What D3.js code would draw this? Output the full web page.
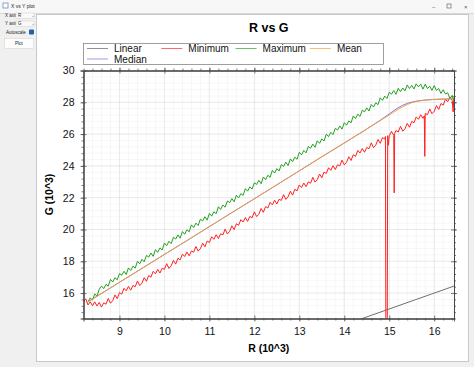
<!DOCTYPE html>
<html>
<head>
<meta charset="utf-8">
<script src="https://cdn.jsdelivr.net/npm/d3@7"></script>
<style>
  body { margin: 0; background: #f0f0f0; }
  svg { display: block; font-family: "Liberation Sans", Arial, sans-serif; }
</style>
</head>
<body>
<div id="viz"></div>
<script>
// Chart data (R and G in 10^3)

const seriesNames = ["Linear", "Minimum", "Maximum", "Mean", "Median"];
const seriesColors = ["#606060", "#ff2020", "#22a022", "#f0a030", "#7a6ad8"];

const xTicks = [9, 10, 11, 12, 13, 14, 15, 16];
const yTicks = [16, 18, 20, 22, 24, 26, 28, 30];

// y = x reference line
const linear = [[8.2, 8.2], [16.44, 16.44]];

const maximum = [
  [8.30, 15.45], [8.35, 15.7], [8.40, 15.55], [8.45, 15.95], [8.50, 15.8], [8.55, 16.25],
  [8.60, 16.44], [8.65, 16.28], [8.70, 16.55], [8.75, 16.43], [8.80, 16.86], [8.85, 16.70], [8.90, 16.97], [8.95, 16.83],
  [9.00, 17.22], [9.05, 17.12], [9.10, 17.37], [9.15, 17.17], [9.20, 17.58], [9.25, 17.42], [9.30, 17.69], [9.35, 17.57],
  [9.40, 18.00], [9.45, 17.84], [9.50, 18.12], [9.55, 17.97], [9.60, 18.37], [9.65, 18.26], [9.70, 18.52], [9.75, 18.31],
  [9.80, 18.73], [9.85, 18.56], [9.90, 18.84], [9.95, 18.71], [10.00, 19.15], [10.05, 18.98], [10.10, 19.26], [10.15, 19.11],
  [10.20, 19.51], [10.25, 19.40], [10.30, 19.66], [10.35, 19.45], [10.40, 19.87], [10.45, 19.70], [10.50, 19.98], [10.55, 19.85],
  [10.60, 20.29], [10.65, 20.12], [10.70, 20.40], [10.75, 20.25], [10.80, 20.65], [10.85, 20.54], [10.90, 20.80], [10.95, 20.59],
  [11.00, 21.01], [11.05, 20.84], [11.10, 21.12], [11.15, 20.99], [11.20, 21.43], [11.25, 21.26], [11.30, 21.54], [11.35, 21.40],
  [11.40, 21.79], [11.45, 21.69], [11.50, 21.94], [11.55, 21.74], [11.60, 22.15], [11.65, 21.99], [11.70, 22.26], [11.75, 22.14],
  [11.80, 22.57], [11.85, 22.41], [11.90, 22.68], [11.95, 22.54], [12.00, 22.94], [12.05, 22.83], [12.10, 23.09], [12.15, 22.88],
  [12.20, 23.30], [12.25, 23.13], [12.30, 23.41], [12.35, 23.28], [12.40, 23.72], [12.45, 23.55], [12.50, 23.83], [12.55, 23.68],
  [12.60, 24.08], [12.65, 23.97], [12.70, 24.23], [12.75, 24.02], [12.80, 24.44], [12.85, 24.27], [12.90, 24.55], [12.95, 24.42],
  [13.00, 24.86], [13.05, 24.69], [13.10, 24.97], [13.15, 24.82], [13.20, 25.22], [13.25, 25.11], [13.30, 25.37], [13.35, 25.17],
  [13.40, 25.58], [13.45, 25.42], [13.50, 25.69], [13.55, 25.57], [13.60, 26.00], [13.65, 25.84], [13.70, 26.11], [13.75, 25.97],
  [13.80, 26.36], [13.85, 26.26], [13.90, 26.51], [13.95, 26.31], [14.00, 26.72], [14.05, 26.56], [14.10, 26.83], [14.15, 26.71],
  [14.20, 27.14], [14.25, 26.98], [14.30, 27.25], [14.35, 27.11], [14.40, 27.50], [14.45, 27.40], [14.50, 27.65], [14.55, 27.45],
  [14.60, 27.86], [14.65, 27.70], [14.70, 27.97], [14.75, 27.85], [14.80, 28.28], [14.85, 28.12], [14.90, 28.39], [14.95, 28.24],
  [15.00, 28.63], [15.05, 28.51], [15.10, 28.74], [15.15, 28.50], [15.20, 28.88], [15.25, 28.67], [15.30, 28.90], [15.35, 28.72],
  [15.40, 29.09], [15.45, 28.86], [15.50, 29.06], [15.55, 28.84], [15.60, 29.16], [15.65, 28.97], [15.70, 29.14], [15.75, 28.83],
  [15.80, 29.14], [15.85, 28.86], [15.90, 29.01], [15.95, 28.75], [16.00, 29.05], [16.05, 28.74], [16.10, 28.87], [16.15, 28.56],
  [16.20, 28.79], [16.25, 28.52], [16.30, 28.60], [16.35, 28.22], [16.40, 28.44], [16.43, 28.10]
];

const minimum = [
  [8.20, 15.45], [8.25, 15.64], [8.30, 15.25], [8.35, 15.45], [8.40, 15.20], [8.45, 15.45], [8.50, 15.19], [8.55, 15.41],
  [8.60, 15.12], [8.65, 15.39], [8.70, 15.30], [8.75, 15.66], [8.80, 15.36], [8.85, 15.52], [8.90, 15.88], [8.95, 15.65],
  [9.00, 16.03], [9.05, 15.93], [9.10, 16.30], [9.15, 16.14], [9.20, 16.42], [9.25, 16.18], [9.30, 16.48], [9.35, 16.40],
  [9.40, 16.76], [9.45, 16.47], [9.50, 16.62], [9.55, 16.97], [9.60, 16.74], [9.65, 17.10], [9.70, 17.00], [9.75, 17.37],
  [9.80, 17.21], [9.85, 17.49], [9.90, 17.26], [9.95, 17.56], [10.00, 17.49], [10.05, 17.85], [10.10, 17.55], [10.15, 17.71],
  [10.20, 18.06], [10.25, 17.82], [10.30, 18.19], [10.35, 18.09], [10.40, 18.45], [10.45, 18.30], [10.50, 18.58], [10.55, 18.34],
  [10.60, 18.65], [10.65, 18.57], [10.70, 18.93], [10.75, 18.64], [10.80, 18.79], [10.85, 19.14], [10.90, 18.91], [10.95, 19.27],
  [11.00, 19.18], [11.05, 19.54], [11.10, 19.38], [11.15, 19.67], [11.20, 19.43], [11.25, 19.73], [11.30, 19.66], [11.35, 20.02],
  [11.40, 19.72], [11.45, 19.88], [11.50, 20.23], [11.55, 19.99], [11.60, 20.36], [11.65, 20.26], [11.70, 20.62], [11.75, 20.47],
  [11.80, 20.75], [11.85, 20.51], [11.90, 20.82], [11.95, 20.74], [12.00, 21.11], [12.05, 20.81], [12.10, 20.96], [12.15, 21.32],
  [12.20, 21.08], [12.25, 21.44], [12.30, 21.35], [12.35, 21.71], [12.40, 21.55], [12.45, 21.84], [12.50, 21.60], [12.55, 21.90],
  [12.60, 21.83], [12.65, 22.19], [12.70, 21.89], [12.75, 22.05], [12.80, 22.40], [12.85, 22.16], [12.90, 22.53], [12.95, 22.43],
  [13.00, 22.80], [13.05, 22.64], [13.10, 22.92], [13.15, 22.69], [13.20, 22.99], [13.25, 22.91], [13.30, 23.28], [13.35, 22.98],
  [13.40, 23.13], [13.45, 23.49], [13.50, 23.25], [13.55, 23.61], [13.60, 23.52], [13.65, 23.88], [13.70, 23.72], [13.75, 24.01],
  [13.80, 23.77], [13.85, 24.07], [13.90, 24.00], [13.95, 24.36], [14.00, 24.07], [14.05, 24.22], [14.10, 24.57], [14.15, 24.34],
  [14.20, 24.70], [14.25, 24.60], [14.30, 24.97], [14.35, 24.81], [14.40, 25.09], [14.45, 24.86], [14.50, 25.16], [14.55, 25.08],
  [14.60, 25.45], [14.65, 25.15], [14.70, 25.30], [14.75, 25.66], [14.80, 25.42], [14.85, 25.78], [14.90, 25.69],
  [14.915, 25.85], [14.925, 13.0], [14.955, 13.0], [14.965, 25.9], [14.98, 25.3], [15.00, 25.90], [15.05, 26.17],
  [15.10, 25.92], [15.11, 22.3], [15.12, 26.05], [15.15, 26.22], [15.20, 26.13], [15.25, 26.49], [15.30, 26.18], [15.35, 26.33],
  [15.40, 26.67], [15.45, 26.43], [15.50, 26.80], [15.55, 26.71], [15.60, 27.08], [15.65, 26.93], [15.70, 27.22], [15.75, 26.99],
  [15.78, 27.15], [15.79, 24.6], [15.80, 27.29], [15.85, 27.22], [15.90, 27.58], [15.95, 27.28], [16.00, 27.43], [16.05, 27.79],
  [16.10, 27.55], [16.15, 27.92], [16.20, 27.82], [16.25, 28.19], [16.30, 28.04], [16.35, 28.34], [16.40, 28.12],
  [16.42, 27.4], [16.44, 28.4]
];

const mean = [
  [8.3, 15.45], [8.5, 15.8], [9.0, 16.68], [9.5, 17.55], [10.0, 18.43], [10.5, 19.3], [11.0, 20.18], [11.5, 21.06],
  [12.0, 21.93], [12.5, 22.81], [13.0, 23.69], [13.5, 24.57], [14.0, 25.44], [14.5, 26.32], [14.8, 26.85], [15.0, 27.2],
  [15.1, 27.38], [15.2, 27.56], [15.3, 27.72], [15.4, 27.86], [15.5, 27.97], [15.6, 28.05], [15.7, 28.1], [15.8, 28.14],
  [16.0, 28.18], [16.2, 28.2], [16.4, 28.22]
];

const median = [
  [8.3, 15.45], [8.5, 15.8], [9.0, 16.68], [9.5, 17.55], [10.0, 18.43], [10.5, 19.3], [11.0, 20.18], [11.5, 21.06],
  [12.0, 21.93], [12.5, 22.81], [13.0, 23.69], [13.5, 24.57], [14.0, 25.44], [14.5, 26.32], [14.8, 26.87], [15.0, 27.27],
  [15.1, 27.47], [15.2, 27.66], [15.3, 27.81], [15.4, 27.93], [15.5, 28.01], [15.6, 28.07], [15.7, 28.11], [15.8, 28.14],
  [16.0, 28.18], [16.2, 28.2], [16.4, 28.22]
];

const seriesData = [linear, minimum, maximum, mean, median];

// Layout
const W = 474, H = 367;
const plot = { left: 83.5, right: 454, top: 70.5, bottom: 318.5 };

const svg = d3.select("#viz").append("svg")
    .attr("width", W)
    .attr("height", H);

// ---- window chrome ----
svg.append("rect").attr("width", W).attr("height", H).attr("fill", "#f0f0f0");
svg.append("rect").attr("width", W).attr("height", 13).attr("fill", "#f7f7f7");
svg.append("line").attr("x1", 0).attr("x2", W).attr("y1", 13.5).attr("y2", 13.5).attr("stroke", "#d8d8d8");
svg.append("rect").attr("x", 3).attr("y", 3).attr("width", 5).attr("height", 5)
    .attr("fill", "#fff").attr("stroke", "#6a8fc0").attr("stroke-width", 0.8);
svg.append("text").attr("x", 11).attr("y", 8).attr("font-size", 5).attr("fill", "#222").text("X vs Y plot");
svg.append("text").attr("x", 432).attr("y", 8.5).attr("font-size", 6).attr("fill", "#555").text("–");
svg.append("rect").attr("x", 447).attr("y", 4).attr("width", 4).attr("height", 4)
    .attr("fill", "none").attr("stroke", "#555").attr("stroke-width", 0.6);
svg.append("text").attr("x", 464).attr("y", 8.5).attr("font-size", 6).attr("fill", "#555").text("×");

// left control panel
const ctrl = svg.append("g").attr("font-size", 4.5).attr("fill", "#222");
[["X axis", "R", 17], ["Y axis", "G", 25]].forEach(([lab, val, y]) => {
    ctrl.append("text").attr("x", 5).attr("y", y).text(lab);
    ctrl.append("rect").attr("x", 16).attr("y", y - 4).attr("width", 18).attr("height", 5.5)
        .attr("fill", "#fafafa").attr("stroke", "#d0d0d0").attr("stroke-width", 0.5);
    ctrl.append("text").attr("x", 18).attr("y", y).text(val);
    ctrl.append("text").attr("x", 30.5).attr("y", y).attr("fill", "#888").text("⌄");
});
ctrl.append("text").attr("x", 6).attr("y", 33.5).text("Autoscale");
ctrl.append("rect").attr("x", 29).attr("y", 29.5).attr("width", 5).attr("height", 5).attr("rx", 1)
    .attr("fill", "#1f5fae");
ctrl.append("rect").attr("x", 4.5).attr("y", 38.5).attr("width", 29).attr("height", 10)
    .attr("fill", "#fdfdfd").attr("stroke", "#d0d0d0").attr("stroke-width", 0.5);
ctrl.append("text").attr("x", 19).attr("y", 45).attr("text-anchor", "middle").attr("fill", "#222").text("Plot");

// chart panel
svg.append("rect").attr("x", 36.5).attr("y", 14.5).attr("width", 432).attr("height", 347)
    .attr("fill", "#fff").attr("stroke", "#c8c8c8");

// ---- scales ----
const x = d3.scaleLinear().domain([8.2, 16.44]).range([plot.left, plot.right]);
const y = d3.scaleLinear().domain([14.4, 30]).range([plot.bottom, plot.top]);

const xMinor = d3.range(8.2, 16.45, 0.2);
const yMinor = d3.range(14.4, 30.01, 0.4);

// grid
const grid = svg.append("g");
grid.selectAll("line.vminor").data(xMinor).join("line")
    .attr("x1", d => x(d)).attr("x2", d => x(d)).attr("y1", plot.top).attr("y2", plot.bottom)
    .attr("stroke", "#e6e6e6").attr("stroke-width", 0.6).attr("stroke-dasharray", "1,1");
grid.selectAll("line.hminor").data(yMinor).join("line")
    .attr("x1", plot.left).attr("x2", plot.right).attr("y1", d => y(d)).attr("y2", d => y(d))
    .attr("stroke", "#e6e6e6").attr("stroke-width", 0.6).attr("stroke-dasharray", "1,1");
grid.selectAll("line.vmajor").data(xTicks).join("line")
    .attr("x1", d => x(d)).attr("x2", d => x(d)).attr("y1", plot.top).attr("y2", plot.bottom)
    .attr("stroke", "#d0d0d0").attr("stroke-width", 0.7).attr("stroke-dasharray", "1,1");
grid.selectAll("line.hmajor").data(yTicks).join("line")
    .attr("x1", plot.left).attr("x2", plot.right).attr("y1", d => y(d)).attr("y2", d => y(d))
    .attr("stroke", "#d0d0d0").attr("stroke-width", 0.7).attr("stroke-dasharray", "1,1");

// ---- data lines ----
svg.append("clipPath").attr("id", "clip")
  .append("rect").attr("x", plot.left).attr("y", plot.top)
    .attr("width", plot.right - plot.left).attr("height", plot.bottom - plot.top);

const line = d3.line().x(d => x(d[0])).y(d => y(d[1]));
const drawOrder = [0, 1, 2, 4, 3]; // median under mean
const lines = svg.append("g").attr("clip-path", "url(#clip)");
drawOrder.forEach(i => {
    lines.append("path")
        .datum(seriesData[i])
        .attr("d", line)
        .attr("fill", "none")
        .attr("stroke", seriesColors[i])
        .attr("stroke-width", i === 1 || i === 2 ? 1 : 0.9)
        .attr("stroke-linejoin", "round");
});

// ---- axes ----
function styleAxis(g) {
    g.selectAll(".domain").attr("stroke", "#444").attr("stroke-width", 0.8);
    g.selectAll(".tick line").attr("stroke", "#444").attr("stroke-width", 0.7);
    g.selectAll(".tick text").attr("font-size", 10.5).attr("fill", "#111")
        .attr("font-family", "Liberation Sans, Arial, sans-serif");
}

function tickSet(axisFn, pos, values, size, labels) {
    const a = axisFn(pos === "x" ? x : y).tickValues(values).tickSize(size);
    if (labels) a.tickFormat(d3.format("d")).tickPadding(6);
    else a.tickFormat("").tickSizeOuter(0);
    return a;
}

const sides = [
    { fn: d3.axisBottom, s: "x", t: `translate(0,${plot.bottom})`, labels: true },
    { fn: d3.axisTop, s: "x", t: `translate(0,${plot.top})`, labels: false },
    { fn: d3.axisLeft, s: "y", t: `translate(${plot.left},0)`, labels: true },
    { fn: d3.axisRight, s: "y", t: `translate(${plot.right},0)`, labels: false }
];
sides.forEach(sd => {
    const major = sd.s === "x" ? xTicks : yTicks;
    const minor = sd.s === "x" ? xMinor : yMinor;
    svg.append("g").attr("transform", sd.t).call(tickSet(sd.fn, sd.s, major, 3, sd.labels)).call(styleAxis);
    svg.append("g").attr("transform", sd.t).call(tickSet(sd.fn, sd.s, major, -3, false)).call(styleAxis);
    svg.append("g").attr("transform", sd.t).call(tickSet(sd.fn, sd.s, minor, 2, false)).call(styleAxis);
});

// ---- titles ----
svg.append("text")
    .attr("x", (plot.left + plot.right) / 2).attr("y", 32)
    .attr("text-anchor", "middle").attr("font-size", 12.5).attr("font-weight", "bold")
    .text("R vs G");
svg.append("text")
    .attr("x", (plot.left + plot.right) / 2).attr("y", 351.5)
    .attr("text-anchor", "middle").attr("font-size", 10.5).attr("font-weight", "bold")
    .text("R (10^3)");
svg.append("text")
    .attr("transform", `translate(53,${(plot.top + plot.bottom) / 2}) rotate(-90)`)
    .attr("text-anchor", "middle").attr("font-size", 10.5).attr("font-weight", "bold")
    .text("G (10^3)");

// ---- legend ----
const legend = svg.append("g").attr("transform", "translate(83.5,43.5)");
legend.append("rect").attr("width", 300).attr("height", 21)
    .attr("fill", "#fff").attr("stroke", "#888").attr("stroke-width", 0.8);
seriesNames.forEach((name, i) => {
    const col = i % 4, row = Math.floor(i / 4);
    const gx = 3.5 + col * 74.3, gy = 5 + row * 10.5;
    legend.append("line").attr("x1", gx).attr("x2", gx + 21).attr("y1", gy).attr("y2", gy)
        .attr("stroke", seriesColors[i]).attr("stroke-width", 0.9).attr("opacity", 0.75);
    legend.append("text").attr("x", gx + 27).attr("y", gy + 3.5)
        .attr("font-size", 10).attr("fill", "#111").text(name);
});
</script>
</body>
</html>
